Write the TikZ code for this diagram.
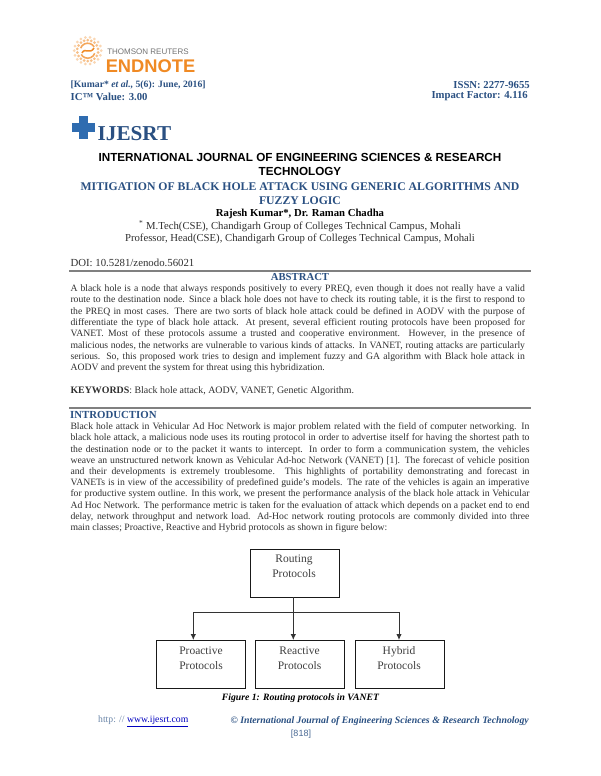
\documentclass[tikz,border=0pt]{standalone}
\usepackage{fontspec}
\usetikzlibrary{arrows.meta}
\setmainfont{Liberation Serif}
\newfontfamily\headsans{Liberation Sans}
\definecolor{ijblue}{HTML}{2A5082}
\definecolor{plusblue}{HTML}{2F6CB0}
\definecolor{logoorange}{HTML}{F08A24}
\definecolor{rulegray}{HTML}{808080}
\definecolor{bodygray}{HTML}{303030}
\newcommand{\absline}[1]{\makebox[454.5pt][s]{#1}}
\newcommand{\intline}[1]{\makebox[459pt][s]{#1}}
\tikzset{
  txt/.style={inner sep=0, outer sep=0, text=bodygray, font=\fontsize{9.7}{11}\selectfont},
  bodyline/.style={txt, anchor=west},
  midline/.style={txt, anchor=center, font=\fontsize{10.7}{12}\selectfont},
  heading/.style={inner sep=0, text=black, font=\headsans\bfseries\fontsize{11.7}{13}\selectfont},
  bluetitle/.style={inner sep=0, text=ijblue, font=\bfseries\fontsize{11.75}{13}\selectfont},
  bluehead/.style={inner sep=0, text=ijblue, font=\bfseries\fontsize{10.7}{12}\selectfont},
  protobox/.style={draw=black!90, line width=1pt, minimum width=89pt, minimum height=48pt, inner sep=0},
  prototxt/.style={inner sep=0, text=black!75, font=\fontsize{11.5}{15}\selectfont, align=center},
  link/.style={draw=black!80, line width=1pt},
}
\begin{document}
\begin{tikzpicture}[x=1pt,y=-1pt]
  \useasboundingbox[fill=white] (0,0) rectangle (600,776);
  % logo
  \foreach \a in {0,20,...,340} {
    \fill[logoorange!35] (87.7,50.7) ++(\a:13.5) circle (1.5);
    \fill[logoorange!55] (87.7,50.7) ++(\a+10:10.5) circle (1.5);
  }
  \draw[logoorange!75, line width=1.6pt] (87.7,50.7) ++(20:7.5) arc (20:150:7.5);
  \draw[logoorange!75, line width=1.6pt] (87.7,50.7) ++(200:7.5) arc (200:330:7.5);
  \draw[logoorange, line width=1.5pt] (82,53) .. controls (85,47) and (90,55) .. (94,48);
  \node[inner sep=0, text=black!55, font=\headsans\fontsize{8}{9}\selectfont] (reuters) at (148,51.5) {THOMSON REUTERS};
  \node[inner sep=0, text=logoorange, font=\headsans\bfseries\fontsize{18.3}{19}\selectfont] (endnote) at (150.5,66) {ENDNOTE};
  % running head
  \node[bluehead, anchor=west, font=\bfseries\fontsize{9.7}{11}\selectfont] (kumar) at (70.5,85) {[Kumar* \textit{et al.,} 5(6): June, 2016]};
  \node[bluehead, anchor=west] (icv) at (70.5,96.5) {IC™ Value: 3.00};
  \node[bluehead, anchor=east] (issn) at (530,85) {ISSN: 2277-9655};
  \node[bluehead, anchor=east] (impact) at (528,96.5) {Impact Factor: 4.116};
  % journal mark
  \fill[plusblue] (78.5,116) rectangle (87.5,139);
  \fill[plusblue] (71.5,123) rectangle (95,131.5);
  \node[inner sep=0, anchor=west, text=ijblue, font=\bfseries\fontsize{21.2}{22}\selectfont] (ijesrt) at (97.5,134) {IJESRT};
  % title block
  \node[heading] (journal1) at (300,157) {INTERNATIONAL JOURNAL OF ENGINEERING SCIENCES \& RESEARCH};
  \node[heading] (journal2) at (300,171) {TECHNOLOGY};
  \node[bluetitle] (title1) at (300,187) {MITIGATION OF BLACK HOLE ATTACK USING GENERIC ALGORITHMS AND};
  \node[bluetitle] (title2) at (300,201) {FUZZY LOGIC};
  \node[midline, text=black, font=\bfseries\fontsize{10.7}{12}\selectfont] (authors) at (300,214) {Rajesh Kumar*, Dr. Raman Chadha};
  \node[midline] (affil1) at (300,226.5) {\textsuperscript{*} M.Tech(CSE), Chandigarh Group of Colleges Technical Campus, Mohali};
  \node[midline] (affil2) at (300,239) {Professor, Head(CSE), Chandigarh Group of Colleges Technical Campus, Mohali};
  \node[bodyline, font=\fontsize{10.8}{12}\selectfont] (doi) at (70.5,263) {DOI: 10.5281/zenodo.56021};
  % abstract
  \draw[rulegray, line width=1.2pt] (69,271) -- (531,271);
  \node[bluehead] (abstract) at (300,277) {ABSTRACT};
  \node[bodyline] (abs1) at (70.5,289) {\absline{A black hole is a node that always responds positively to every PREQ, even though it does not really have a valid}};
  \node[bodyline] (abs2) at (70.5,300.5) {\absline{route to the destination node. Since a black hole does not have to check its routing table, it is the first to respond to}};
  \node[bodyline] (abs3) at (70.5,312) {\absline{the PREQ in most cases. There are two sorts of black hole attack could be defined in AODV with the purpose of}};
  \node[bodyline] (abs4) at (70.5,323) {\absline{differentiate the type of black hole attack.  At present, several efficient routing protocols have been proposed for}};
  \node[bodyline] (abs5) at (70.5,334.5) {\absline{VANET. Most of these protocols assume a trusted and cooperative environment. However, in the presence of}};
  \node[bodyline] (abs6) at (70.5,346) {\absline{malicious nodes, the networks are vulnerable to various kinds of attacks. In VANET, routing attacks are particularly}};
  \node[bodyline] (abs7) at (70.5,357) {\absline{serious. So, this proposed work tries to design and implement fuzzy and GA algorithm with Black hole attack in}};
  \node[bodyline] (abs8) at (70.5,368.5) {AODV and prevent the system for threat using this hybridization.};
  \node[bodyline, font=\fontsize{9.9}{11}\selectfont] (keywords) at (70.5,391) {\textbf{KEYWORDS}: Black hole attack, AODV, VANET, Genetic Algorithm.};
  % introduction
  \draw[rulegray, line width=1.2pt] (69,408) -- (531,408);
  \node[bluehead, anchor=west, font=\bfseries\fontsize{10.8}{12}\selectfont] (intro) at (70,415) {INTRODUCTION};
  \node[bodyline] (int1) at (70.5,427) {\intline{Black hole attack in Vehicular Ad Hoc Network is major problem related with the field of computer networking. In}};
  \node[bodyline] (int2) at (70.5,438) {\intline{black hole attack, a malicious node uses its routing protocol in order to advertise itself for having the shortest path to}};
  \node[bodyline] (int3) at (70.5,450) {\intline{the destination node or to the packet it wants to intercept. In order to form a communication system, the vehicles}};
  \node[bodyline] (int4) at (70.5,461) {\intline{weave an unstructured network known as Vehicular Ad-hoc Network (VANET) [1]. The forecast of vehicle position}};
  \node[bodyline] (int5) at (70.5,472) {\intline{and their developments is extremely troublesome. This highlights of portability demonstrating and forecast in}};
  \node[bodyline] (int6) at (70.5,483) {\intline{VANETs is in view of the accessibility of predefined guide’s models. The rate of the vehicles is again an imperative}};
  \node[bodyline] (int7) at (70.5,494.5) {\intline{for productive system outline. In this work, we present the performance analysis of the black hole attack in Vehicular}};
  \node[bodyline] (int8) at (70.5,506) {\intline{Ad Hoc Network. The performance metric is taken for the evaluation of attack which depends on a packet end to end}};
  \node[bodyline] (int9) at (70.5,517) {\intline{delay, network throughput and network load. Ad-Hoc network routing protocols are commonly divided into three}};
  \node[bodyline] (int10) at (70.5,528) {main classes; Proactive, Reactive and Hybrid protocols as shown in figure below:};
  % figure
  \node[protobox] (routing) at (294.5,573) {};
  \node[protobox] (proactive) at (201.3,664) {};
  \node[protobox] (reactive) at (300,664) {};
  \node[protobox] (hybrid) at (399.5,664) {};
  \node[prototxt] (routingtxt) at (294,566) {Routing\\Protocols};
  \node[prototxt] (proactivetxt) at (201,658) {Proactive\\Protocols};
  \node[prototxt] (reactivetxt) at (299.5,658) {Reactive\\Protocols};
  \node[prototxt] (hybridtxt) at (399,658) {Hybrid\\Protocols};
  \coordinate (trunk) at (293.3,597);
  \coordinate (bus) at (293.3,612);
  \coordinate (intoproactive) at (193.3,640);
  \coordinate (intoreactive) at (293.3,640);
  \coordinate (intohybrid) at (399,640);
  \draw[link] (trunk) -- (bus);
  \draw[link, -{Latex[length=6pt,width=5.5pt]}] (bus) -| (intoproactive);
  \draw[link, -{Latex[length=6pt,width=5.5pt]}] (bus) -- (intoreactive);
  \draw[link, -{Latex[length=6pt,width=5.5pt]}] (bus) -| (intohybrid);
  \node[midline, text=black, font=\bfseries\itshape\fontsize{9.7}{11}\selectfont] (caption) at (300.5,698) {Figure 1: Routing protocols in VANET};
  % footer
  \node[inner sep=0, anchor=west, text=ijblue!70, font=\fontsize{9.7}{11}\selectfont] (http) at (98,721) {http: // \textcolor{blue!75!black}{\underline{www.ijesrt.com}}};
  \node[inner sep=0, anchor=east, text=ijblue, font=\bfseries\itshape\fontsize{9.8}{11}\selectfont] (copyright) at (529,721) {© International Journal of Engineering Sciences \& Research Technology};
  \node[inner sep=0, text=ijblue!85, font=\headsans\fontsize{9}{11}\selectfont] (page) at (301,734.5) {[818]};
\end{tikzpicture}
\end{document}
